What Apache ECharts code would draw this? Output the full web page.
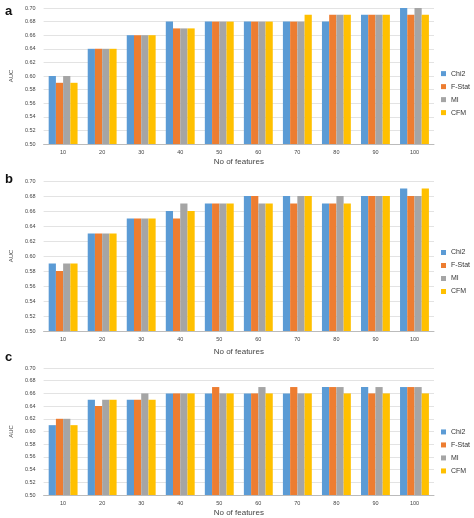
<!DOCTYPE html>
<html><head><meta charset="utf-8">
<script src="https://cdn.jsdelivr.net/npm/echarts@6/dist/echarts.min.js"></script>
<style>html,body{margin:0;padding:0;background:#fff}#c{width:474px;height:518px}</style>
</head><body><div id="c"></div>
<script>
const categories = ['10','20','30','40','50','60','70','80','90','100'];
const seriesNames = ['Chi2','F-Stat','MI','CFM'];
const yTicks = [0.50,0.52,0.54,0.56,0.58,0.60,0.62,0.64,0.66,0.68,0.70];
const aChi2 = [.60,.64,.66,.68,.68,.68,.68,.68,.69,.70];
const aF    = [.59,.64,.66,.67,.68,.68,.68,.69,.69,.69];
const aMI   = [.60,.64,.66,.67,.68,.68,.68,.69,.69,.70];
const aCFM  = [.59,.64,.66,.67,.68,.68,.69,.69,.69,.69];
const bChi2 = [.59,.63,.65,.66,.67,.68,.68,.67,.68,.69];
const bF    = [.58,.63,.65,.65,.67,.68,.67,.67,.68,.68];
const bMI   = [.59,.63,.65,.67,.67,.67,.68,.68,.68,.68];
const bCFM  = [.59,.63,.65,.66,.67,.67,.68,.67,.68,.69];
const cChi2 = [.61,.65,.65,.66,.66,.66,.66,.67,.67,.67];
const cF    = [.62,.64,.65,.66,.67,.66,.67,.67,.66,.67];
const cMI   = [.62,.65,.66,.66,.66,.67,.66,.67,.67,.67];
const cCFM  = [.61,.65,.65,.66,.66,.66,.66,.66,.66,.66];
const panels = [[aChi2,aF,aMI,aCFM],[bChi2,bF,bMI,bCFM],[cChi2,cF,cMI,cCFM]];
const colors = ['#5B9BD5','#ED7D31','#A5A5A5','#FFC000'];
const grids = [{top:8,height:136},{top:181,height:150},{top:368,height:132}];
const letters = ['a','b','c'];
const letterTop = [0,168,346];
const opt = {animation:false,grid:[],xAxis:[],yAxis:[],series:[],legend:[],title:[]};
panels.forEach((p,i)=>{
  opt.grid.push({left:34,width:400,top:grids[i].top,height:grids[i].height});
  opt.xAxis.push({type:'category',gridIndex:i,data:categories,name:'No of features',nameLocation:'middle',nameGap:i==1?17:14,
    nameTextStyle:{fontSize:8,color:'#444'},axisTick:{show:false},axisLine:{lineStyle:{color:'#bbb'}},
    axisLabel:{fontSize:5.5,color:'#444',margin:5}});
  opt.yAxis.push({type:'value',gridIndex:i,min:0.5,max:0.7,interval:0.02,name:'AUC',nameLocation:'middle',nameGap:22,
    nameTextStyle:{fontSize:6,color:'#444'},axisLine:{show:false},axisTick:{show:false},
    axisLabel:{fontSize:5.5,color:'#444',formatter:v=>v.toFixed(2)},splitLine:{lineStyle:{color:'#e3e3e3'}}});
  p.forEach((d,j)=>opt.series.push({type:'bar',name:seriesNames[j],xAxisIndex:i,yAxisIndex:i,data:d,
    itemStyle:{color:colors[j]},barGap:'0%',barCategoryGap:'26%'}));
  opt.legend.push({orient:'vertical',left:436,top:grids[i].top+grids[i].height*0.42,itemWidth:5,itemHeight:5,itemGap:6,
    textStyle:{fontSize:7,color:'#333'},data:seriesNames.map(n=>({name:n,icon:'rect'}))});
  opt.title.push({text:letters[i],left:0,top:letterTop[i],textStyle:{fontSize:13,fontWeight:'bold',color:'#111'}});
});
echarts.init(document.getElementById('c')).setOption(opt);
</script></body></html>
